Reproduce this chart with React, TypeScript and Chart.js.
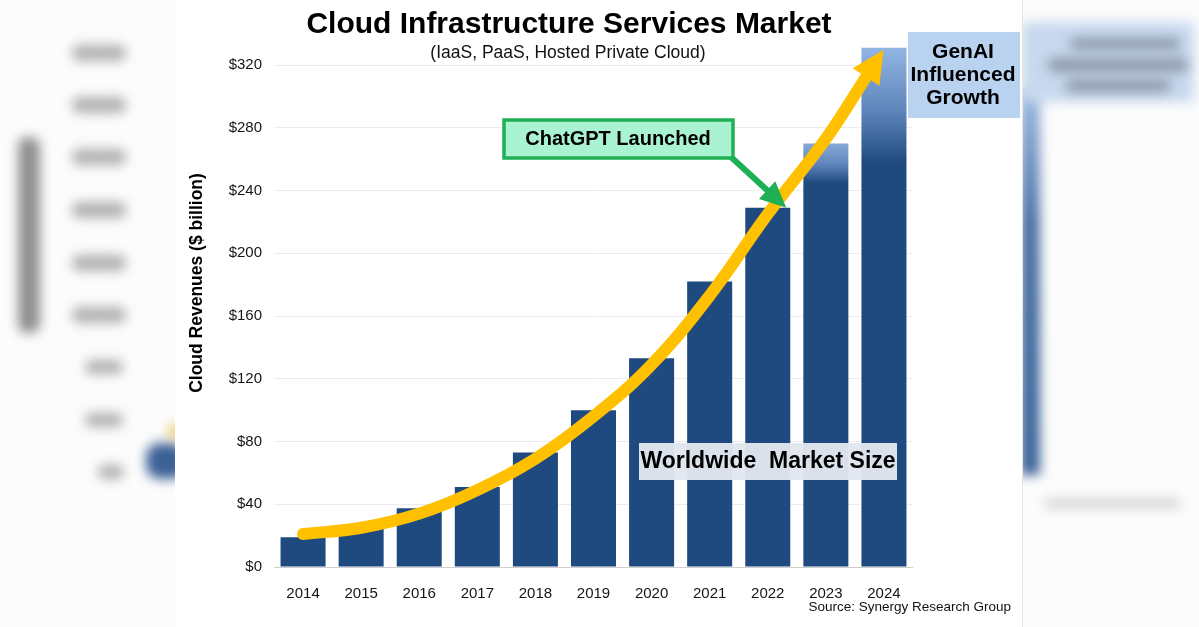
import { useEffect, useRef } from "react";
import { Chart, registerables } from "chart.js";

Chart.register(...registerables);

// ---------- data ----------
const years = ["2014", "2015", "2016", "2017", "2018", "2019", "2020", "2021", "2022", "2023", "2024"];
const revenues = [19, 25, 37.5, 51, 73, 100, 133, 182, 229, 270, 331];
const yTickMax = 320;
const yTickStep = 40;
// yellow growth arrow (category index positions, $ billion)
const trendX = [0, 1, 2, 3, 4, 5, 6, 7, 8, 9, 9.72];
const trendY = [21, 25, 34, 49, 69, 96, 129, 173, 225, 273, 314];

const titleText = "Cloud Infrastructure Services Market";
const subtitleText = "(IaaS, PaaS, Hosted Private Cloud)";
const yTitleText = "Cloud Revenues ($ billion)";
const calloutText = "ChatGPT Launched";
const calloutIndex = 8;
const marketText = "Worldwide  Market Size";
const genaiLines = ["GenAI", "Influenced", "Growth"];
const sourceText = "Source: Synergy Research Group";

// ---------- styles ----------
const FONT = "'Liberation Sans', Arial, Helvetica, sans-serif";
const NAVY = "#1f4a80";
const YELLOW = "#ffc000";
const GREEN = "#1fb055";
const W = 1199;
const H = 627;
const FADE: Record<number, { top: string; solidAt: number }> = {
  9: { top: "#86a9d8", solidAt: 245 },
  10: { top: "#92b6e3", solidAt: 257 },
};

function rr(ctx: CanvasRenderingContext2D, x: number, y: number, w: number, h: number, r: number) {
  ctx.beginPath();
  ctx.moveTo(x + r, y);
  ctx.lineTo(x + w - r, y);
  ctx.quadraticCurveTo(x + w, y, x + w, y + r);
  ctx.lineTo(x + w, y + h - r);
  ctx.quadraticCurveTo(x + w, y + h, x + w - r, y + h);
  ctx.lineTo(x + r, y + h);
  ctx.quadraticCurveTo(x, y + h, x, y + h - r);
  ctx.lineTo(x, y + r);
  ctx.quadraticCurveTo(x, y, x + r, y);
  ctx.closePath();
}

const backgroundPlugin = {
  id: "bgDeco",
  beforeDraw(chart: any) {
    const ctx: CanvasRenderingContext2D = chart.ctx;
    ctx.save();
    ctx.fillStyle = "#fcfcfc";
    ctx.fillRect(0, 0, W, H);
    ctx.filter = "blur(6px)";
    // left blurred copy of axis labels
    ctx.fillStyle = "#b0b0b0";
    [53, 105, 157, 210, 263, 315].forEach((y) => { rr(ctx, 72, y - 8, 54, 16, 8); ctx.fill(); });
    [367, 420].forEach((y) => { rr(ctx, 85, y - 7, 38, 14, 7); ctx.fill(); });
    rr(ctx, 98, 465, 26, 14, 7); ctx.fill();
    ctx.fillStyle = "#8f8f8f";
    rr(ctx, 18, 137, 22, 196, 10); ctx.fill();
    ctx.fillStyle = "#3c6196";
    rr(ctx, 146, 443, 40, 36, 16); ctx.fill();
    ctx.fillStyle = "#e9c766";
    rr(ctx, 168, 425, 14, 14, 6); ctx.fill();
    // right blurred copy
    const g = ctx.createLinearGradient(0, 90, 0, 475);
    g.addColorStop(0, "#9ab9e0");
    g.addColorStop(0.35, "#4b71a6");
    g.addColorStop(1, "#3c6398");
    ctx.fillStyle = g;
    ctx.fillRect(1020, 90, 20, 385);
    ctx.fillStyle = "#c7d9ee";
    ctx.fillRect(1022, 22, 172, 80);
    ctx.fillStyle = "#8e99aa";
    rr(ctx, 1070, 38, 110, 12, 6); ctx.fill();
    rr(ctx, 1048, 58, 140, 14, 7); ctx.fill();
    rr(ctx, 1066, 79, 104, 13, 6); ctx.fill();
    ctx.fillStyle = "#d0d0d0";
    rr(ctx, 1045, 499, 135, 9, 4); ctx.fill();
    ctx.filter = "none";
    // main white panel
    ctx.fillStyle = "#ffffff";
    ctx.fillRect(175, 0, 847, H);
    ctx.strokeStyle = "#e4e4e4";
    ctx.lineWidth = 1;
    ctx.beginPath();
    ctx.moveTo(1022.5, 0);
    ctx.lineTo(1022.5, H);
    ctx.stroke();
    ctx.restore();
  },
};

const annotationPlugin = {
  id: "annots",
  afterDatasetsDraw(chart: any) {
    // yellow arrowhead at the end of the trend line
    const ctx: CanvasRenderingContext2D = chart.ctx;
    const meta = chart.getDatasetMeta(0);
    const pts = meta.data;
    const last = pts[pts.length - 1];
    const px = last.cp1x ?? pts[pts.length - 2].x;
    const py = last.cp1y ?? pts[pts.length - 2].y;
    let dx = last.x - px;
    let dy = last.y - py;
    const len = Math.hypot(dx, dy) || 1;
    dx /= len; dy /= len;
    const nx = -dy, ny = dx;
    const bx = last.x - dx * 3, by = last.y - dy * 3;
    const L = 32, HW = 16;
    ctx.save();
    ctx.fillStyle = YELLOW;
    ctx.beginPath();
    ctx.moveTo(bx + dx * L, by + dy * L);
    ctx.lineTo(bx + nx * HW, by + ny * HW);
    ctx.lineTo(bx - nx * HW, by - ny * HW);
    ctx.closePath();
    ctx.fill();
    ctx.restore();
  },
  afterDraw(chart: any) {
    const ctx: CanvasRenderingContext2D = chart.ctx;
    ctx.save();
    ctx.textAlign = "center";
    ctx.textBaseline = "middle";
    // titles
    ctx.fillStyle = "#000";
    ctx.font = `bold 30px ${FONT}`;
    ctx.fillText(titleText, 569, 25);
    ctx.fillStyle = "#111";
    ctx.font = `17.5px ${FONT}`;
    ctx.fillText(subtitleText, 568, 53);
    // y-axis title
    ctx.save();
    ctx.translate(197, 283);
    ctx.rotate(-Math.PI / 2);
    ctx.fillStyle = "#000";
    ctx.font = `bold 17.5px ${FONT}`;
    ctx.fillText(yTitleText, 0, 0);
    ctx.restore();

    // green callout box
    ctx.fillStyle = "#aaf3d2";
    ctx.fillRect(504, 120, 229, 38);
    ctx.strokeStyle = GREEN;
    ctx.lineWidth = 3.5;
    ctx.strokeRect(504, 120, 229, 38);
    ctx.fillStyle = "#000";
    ctx.font = `bold 20px ${FONT}`;
    ctx.fillText(calloutText, 618, 139.5);

    // green arrow to 2022 bar
    const barEl = chart.getDatasetMeta(1).data[calloutIndex];
    const tx = barEl.x + barEl.width / 2 - 4;
    const ty = barEl.y;
    const sx = 731, sy = 157;
    let dx = tx - sx, dy = ty - sy;
    const len = Math.hypot(dx, dy);
    dx /= len; dy /= len;
    const nx = -dy, ny = dx;
    const AL = 26, AH = 12;
    const hx = tx - dx * AL, hy = ty - dy * AL;
    ctx.strokeStyle = GREEN;
    ctx.lineWidth = 6;
    ctx.lineCap = "butt";
    ctx.beginPath();
    ctx.moveTo(sx, sy);
    ctx.lineTo(hx + dx * 2, hy + dy * 2);
    ctx.stroke();
    ctx.fillStyle = GREEN;
    ctx.beginPath();
    ctx.moveTo(tx, ty);
    ctx.lineTo(hx + nx * AH, hy + ny * AH);
    ctx.lineTo(hx - nx * AH, hy - ny * AH);
    ctx.closePath();
    ctx.fill();

    // worldwide market size label
    ctx.fillStyle = "rgba(226,231,239,0.96)";
    ctx.fillRect(639, 443, 258, 37);
    ctx.fillStyle = "#000";
    ctx.font = `bold 23px ${FONT}`;
    ctx.fillText(marketText, 768, 462);

    // GenAI box
    ctx.fillStyle = "#b8d2f0";
    ctx.fillRect(908, 32, 112, 86);
    ctx.fillStyle = "#000";
    ctx.font = `bold 21px ${FONT}`;
    genaiLines.forEach((t, i) => ctx.fillText(t, 963, 52 + i * 23));

    // source
    ctx.textAlign = "right";
    ctx.fillStyle = "#111";
    ctx.font = `13.5px ${FONT}`;
    ctx.fillText(sourceText, 1011, 607);
    ctx.restore();
  },
};

export default function App() {
  const ref = useRef<HTMLCanvasElement>(null);

  useEffect(() => {
    const canvas = ref.current;
    if (!canvas) return;
    const chart = new Chart(canvas, {
      type: "bar",
      data: {
        labels: years,
        datasets: [
          {
            type: "line",
            label: "Growth trend",
            data: trendX.map((x, i) => ({ x, y: trendY[i] })),
            xAxisID: "xt",
            yAxisID: "y",
            borderColor: YELLOW,
            borderWidth: 12,
            borderCapStyle: "round",
            borderJoinStyle: "round",
            pointRadius: 0,
            tension: 0.4,
            fill: false,
            order: 0,
            clip: false,
          } as any,
          {
            type: "bar",
            label: "Cloud revenues",
            data: revenues,
            xAxisID: "x",
            yAxisID: "y",
            grouped: false,
            categoryPercentage: 1,
            barPercentage: 0.775,
            order: 1,
            clip: false,
            backgroundColor: (c: any) => {
              const f = FADE[c.dataIndex];
              const chartObj = c.chart;
              const ys = chartObj.scales?.y;
              if (!f || !ys) return NAVY;
              const yTop = ys.getPixelForValue(revenues[c.dataIndex]);
              const ySolid = ys.getPixelForValue(f.solidAt);
              const gr = chartObj.ctx.createLinearGradient(0, yTop, 0, ySolid);
              gr.addColorStop(0, f.top);
              gr.addColorStop(0.55, "#5d84ba");
              gr.addColorStop(1, NAVY);
              return gr;
            },
          } as any,
        ],
      },
      options: {
        responsive: false,
        animation: false,
        devicePixelRatio: 1,
        layout: { padding: { left: 175, right: 286, top: 65, bottom: 20 } },
        plugins: {
          legend: { display: false },
          tooltip: { enabled: false },
          title: { display: false },
        },
        scales: {
          x: {
            type: "category",
            offset: true,
            grid: { display: false },
            border: { display: false },
            ticks: { color: "#151515", font: { family: FONT, size: 15 }, padding: 10, maxRotation: 0 },
            afterFit: (s: any) => { s.height = 40; },
          },
          xt: {
            type: "linear",
            axis: "x",
            position: "bottom",
            display: true,
            offset: false,
            bounds: "data",
            min: -0.5,
            max: 10.5,
            grid: { display: false, drawTicks: false, offset: false },
            border: { display: false },
            ticks: { display: false },
            afterFit: (s: any) => { s.height = 0; },
          },
          y: {
            type: "linear",
            min: 0,
            max: yTickMax,
            ticks: {
              stepSize: yTickStep,
              color: "#151515",
              font: { family: FONT, size: 15 },
              padding: 12,
              callback: (v: any) => "$" + v,
            },
            grid: {
              drawTicks: false,
              lineWidth: 1,
              color: (c: any) => (c.tick && c.tick.value === 0 ? "#cfcfcf" : "#ececec"),
            },
            border: { display: false },
            afterFit: (s: any) => { s.width = 99; },
          },
        },
      } as any,
      plugins: [backgroundPlugin, annotationPlugin],
    });
    return () => chart.destroy();
  }, []);

  return (
    <div style={{ position: "absolute", left: 0, top: 0, width: W, height: H }}>
      <canvas ref={ref} width={W} height={H} style={{ display: "block", width: W, height: H }} />
    </div>
  );
}
